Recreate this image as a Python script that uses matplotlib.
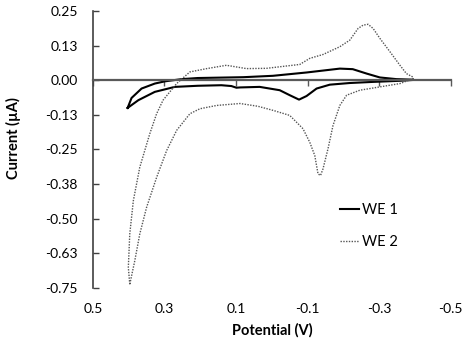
import numpy as np
import matplotlib
matplotlib.use('Agg')
import matplotlib.pyplot as plt

plt.rcParams['font.family'] = ['Lato', 'DejaVu Sans']

# WE 1 - solid loop (forward then reverse)
we1_fwd_x = [0.403, 0.392, 0.364, 0.327, 0.299, 0.252, 0.207, 0.080, -0.003, -0.097,
             -0.190, -0.226, -0.265, -0.302, -0.348, -0.395]
we1_fwd_y = [-0.100, -0.064, -0.030, -0.012, -0.004, 0.004, 0.008, 0.011, 0.016, 0.028,
             0.042, 0.040, 0.024, 0.010, 0.004, 0.002]
we1_rev_x = [-0.394, -0.358, -0.282, -0.218, -0.162, -0.125, -0.097, -0.076, -0.050, -0.022,
             0.034, 0.089, 0.099, 0.113, 0.141, 0.207, 0.271, 0.327, 0.373, 0.403]
we1_rev_y = [0.001, -0.002, -0.006, -0.010, -0.016, -0.030, -0.057, -0.070, -0.054, -0.036,
             -0.024, -0.026, -0.027, -0.021, -0.018, -0.020, -0.024, -0.042, -0.072, -0.100]

# WE 2 - dotted loop
we2_fwd_x = [0.397, 0.401, 0.397, 0.387, 0.369, 0.341, 0.322, 0.304, 0.266, 0.229,
             0.182, 0.127, 0.071, 0.015, -0.078, -0.106, -0.143, -0.190, -0.218, -0.241,
             -0.255, -0.269, -0.283, -0.302, -0.330, -0.358, -0.376, -0.395]
we2_fwd_y = [-0.737, -0.676, -0.555, -0.435, -0.314, -0.193, -0.121, -0.072, -0.012, 0.030,
             0.042, 0.054, 0.042, 0.043, 0.057, 0.079, 0.093, 0.121, 0.145, 0.187,
             0.199, 0.202, 0.187, 0.151, 0.103, 0.054, 0.024, 0.011]
we2_rev_x = [-0.395, -0.358, -0.302, -0.246, -0.209, -0.190, -0.171, -0.157, -0.143, -0.136,
             -0.129, -0.120, -0.106, -0.087, -0.050, -0.004, 0.039, 0.089, 0.154, 0.201,
             0.229, 0.266, 0.294, 0.322, 0.350, 0.369, 0.383, 0.397]
we2_rev_y = [0.006, -0.012, -0.024, -0.036, -0.054, -0.091, -0.163, -0.247, -0.320, -0.344,
             -0.338, -0.272, -0.224, -0.175, -0.127, -0.109, -0.094, -0.084, -0.091, -0.103,
             -0.121, -0.181, -0.254, -0.351, -0.459, -0.555, -0.652, -0.737]

x_ticks = [0.5, 0.3, 0.1, -0.1, -0.3, -0.5]
y_ticks = [0.25, 0.125, 0.0, -0.125, -0.25, -0.375, -0.5, -0.625, -0.75]
y_ticklabels = ['0.25', '0.13', '0.00', '-0.13', '-0.25', '-0.38', '-0.50', '-0.63', '-0.75']

fig = plt.figure(figsize=(4.74, 3.44), dpi=100)
ax = fig.add_axes([0.196, 0.163, 0.755, 0.805])

ax.plot(we1_fwd_x + we1_rev_x, we1_fwd_y + we1_rev_y, color='black', lw=1.5, label='WE 1')
ax.plot(we2_fwd_x + we2_rev_x, we2_fwd_y + we2_rev_y, color='#555555', lw=1.0,
        linestyle=(0, (1, 1)), label='WE 2')

ax.set_xlim(0.5, -0.5)
ax.set_ylim(-0.75, 0.25)

# spines: y axis at left, x axis crossing at zero
ax.spines['top'].set_visible(False)
ax.spines['right'].set_visible(False)
ax.spines['left'].set_color('#404040')
ax.spines['left'].set_linewidth(1.2)
ax.spines['bottom'].set_position(('data', 0))
ax.spines['bottom'].set_color('#595959')
ax.spines['bottom'].set_linewidth(1.6)

ax.set_yticks(y_ticks)
ax.set_yticklabels(y_ticklabels)
ax.tick_params(axis='y', direction='in', length=4, width=1, color='#404040',
               labelsize=10, pad=11)
ax.set_xticks(x_ticks)
ax.tick_params(axis='x', direction='out', length=4, width=1, color='#595959',
               labelbottom=False)

# tick labels at the bottom of the plot area
sec = ax.secondary_xaxis(0)
sec.set_xticks(x_ticks)
sec.set_xticklabels(['0.5', '0.3', '0.1', '-0.1', '-0.3', '-0.5'])
sec.spines['bottom'].set_visible(False)
sec.tick_params(length=0, labelsize=10, pad=11)
sec.set_xlabel('Potential (V)', fontsize=10.5, fontweight='bold', labelpad=6)

ax.set_ylabel('Current (µA)', fontsize=10.5, fontweight='bold')
ax.yaxis.set_label_coords(-0.2, 0.54)

ax.legend(loc='upper left', bbox_to_anchor=(0.69, 0.305), frameon=False, fontsize=10.5,
          handlelength=1.3, handletextpad=0.2, labelspacing=1.2, borderpad=0,
          borderaxespad=0)

fig.savefig('out.png', dpi=100, facecolor='white')
